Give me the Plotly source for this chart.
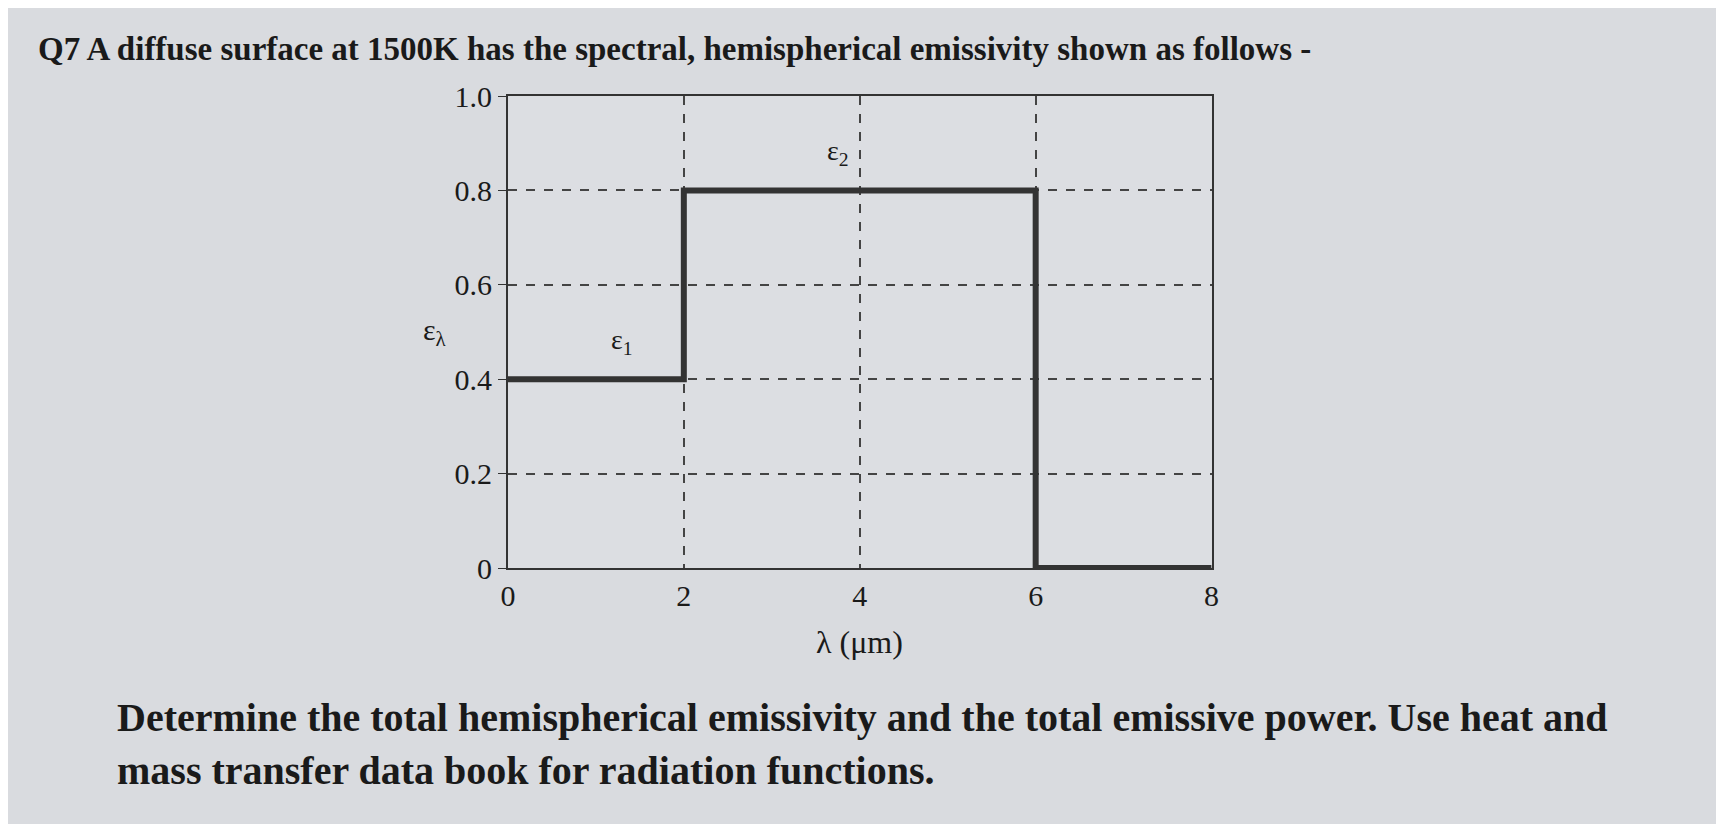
import plotly.graph_objects as go

# step emissivity data
wavelength = [0, 2, 6, 8]
emissivity = [0.4, 0.8, 0.0, 0.0]
x_ticks = [0, 2, 4, 6, 8]
y_ticks = [0, 0.2, 0.4, 0.6, 0.8, 1.0]
y_tick_text = ['0', '0.2', '0.4', '0.6', '0.8', '1.0']

fig = go.Figure()
fig.add_trace(go.Scatter(x=wavelength, y=emissivity, mode='lines', line_shape='hv',
                         line=dict(color='#333333', width=6), showlegend=False))

font = dict(family='Liberation Serif', color='#1a1a1a')
fig.update_layout(
    width=1724, height=824, margin=dict(l=0, r=0, t=0, b=0),
    paper_bgcolor='#d9dbdf', plot_bgcolor='#dcdee2', font=dict(size=26, **font),
    xaxis=dict(domain=[0.288, 0.700], range=[0, 8], tickvals=x_ticks,
               showgrid=True, gridcolor='#444', griddash='dash', gridwidth=2,
               showline=True, linecolor='#333', linewidth=2, mirror=True,
               zeroline=False, ticks='', tickfont=dict(size=30)),
    yaxis=dict(domain=[0.313, 0.909], range=[0, 1.0], tickvals=y_ticks, ticktext=y_tick_text,
               showgrid=True, gridcolor='#444', griddash='dash', gridwidth=2,
               showline=True, linecolor='#333', linewidth=2, mirror=True,
               zeroline=False, ticks='outside', ticklen=8, tickcolor='#333',
               tickfont=dict(size=30)),
)
fig.add_annotation(x=0.237, y=0.5, xref='paper', yref='y', text='ε<sub>λ</sub>',
                   showarrow=False, font=dict(size=30))
fig.add_annotation(x=1.3, y=0.48, text='ε<sub>1</sub>', showarrow=False, font=dict(size=28))
fig.add_annotation(x=3.75, y=0.88, text='ε<sub>2</sub>', showarrow=False, font=dict(size=28))
fig.add_annotation(x=0.494, y=0.194, xref='paper', yref='paper', text='λ (μm)',
                   showarrow=False, font=dict(size=32))
fig.add_annotation(x=0.012, y=0.968, xref='paper', yref='paper', xanchor='left', yanchor='middle',
                   text='<b>Q7 A diffuse surface at 1500K has the spectral, hemispherical emissivity shown as follows -</b>',
                   showarrow=False, font=dict(size=33))
fig.add_annotation(x=0.058, y=0.125, xref='paper', yref='paper', xanchor='left', yanchor='middle',
                   text='<b>Determine the total hemispherical emissivity and the total emissive power. Use heat and</b>',
                   showarrow=False, font=dict(size=40))
fig.add_annotation(x=0.058, y=0.058, xref='paper', yref='paper', xanchor='left', yanchor='middle',
                   text='<b>mass transfer data book for radiation functions.</b>',
                   showarrow=False, font=dict(size=40))

fig.write_html("out.html")
